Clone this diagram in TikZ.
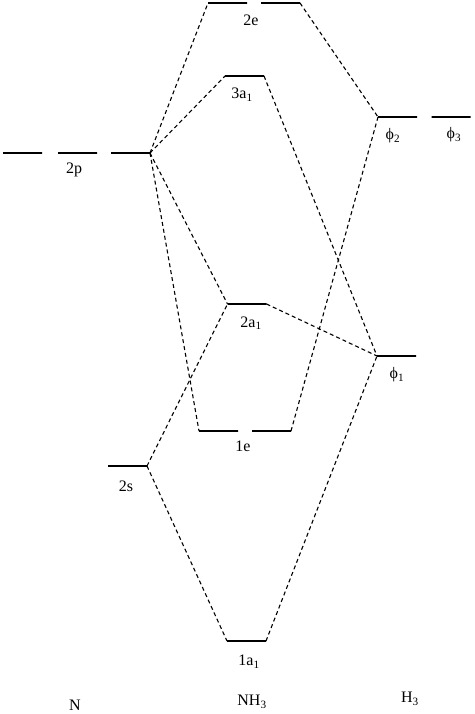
\documentclass[tikz,border=0pt]{standalone}
\usepackage{fontspec}
\setmainfont{Liberation Serif}
\usetikzlibrary{positioning}
\tikzstyle{level} = [
    rectangle,
    draw=black,
    line width=1.5pt,
    minimum width=39pt,
    minimum height=0pt,
    inner sep=0pt,
    outer sep=0pt
]
\tikzstyle{lbl} = [
    font=\fontsize{16}{18}\selectfont,
    inner sep=1pt
]
\tikzstyle{link} = [
    line width=1.1pt,
    dash pattern=on 4pt off 3pt
]

\begin{document}
\begin{tikzpicture}[x=1pt, y=-1pt]
\useasboundingbox (0,0) rectangle (474,714);

% N levels
\node[level] (p1) at (22.5,153) {};
\node[level] (p2) at (77.5,153) {};
\node[level] (p3) at (130.5,153) {};
\node[lbl] (l2p) at (74,170) {2p};
\node[level] (s2) at (127.5,466) {};
\node[lbl] (l2s) at (126,486) {2s};

% NH3 levels
\node[level] (e2a) at (227.5,3) {};
\node[level] (e2b) at (280.5,3) {};
\node[lbl] (l2e) at (251,20) {2e};
\node[level] (a3) at (244.5,76) {};
\node[lbl] (l3a) at (242,95) {3a\textsubscript{1}};
\node[level] (a2) at (247,304) {};
\node[lbl] (l2a) at (251,323) {2a\textsubscript{1}};
\node[level] (e1a) at (218.5,431) {};
\node[level] (e1b) at (271.5,431) {};
\node[lbl] (l1e) at (243,446) {1e};
\node[level] (a1) at (246.5,641) {};
\node[lbl] (l1a) at (249,662) {1a\textsubscript{1}};

% H3 levels
\node[level] (f2) at (397.5,117) {};
\node[level] (f3) at (451,117) {};
\node[lbl] (lf2) at (393,136) {ϕ\textsubscript{2}};
\node[lbl] (lf3) at (454,135) {ϕ\textsubscript{3}};
\node[level] (f1) at (396.5,356) {};
\node[lbl] (lf1) at (397,375) {ϕ\textsubscript{1}};

% correlation lines
\draw[link] (p3.east) -- (e2a.west);
\draw[link] (p3.east) -- (a3.west);
\draw[link] (p3.east) -- (a2.west);
\draw[link] (p3.east) -- (e1a.west);
\draw[link] (s2.east) -- (a2.west);
\draw[link] (s2.east) -- (a1.west);
\draw[link] (e2b.east) -- (f2.west);
\draw[link] (a3.east) -- (f1.west);
\draw[link] (e1b.east) -- (f2.west);
\draw[link] (a2.east) -- (f1.west);
\draw[link] (a1.east) -- (f1.west);

% fragment names
\node[lbl] (nN) at (75,705) {N};
\node[lbl] (nNH) at (252,702) {NH\textsubscript{3}};
\node[lbl] (nH) at (410,699) {H\textsubscript{3}};

\end{tikzpicture}
\end{document}
